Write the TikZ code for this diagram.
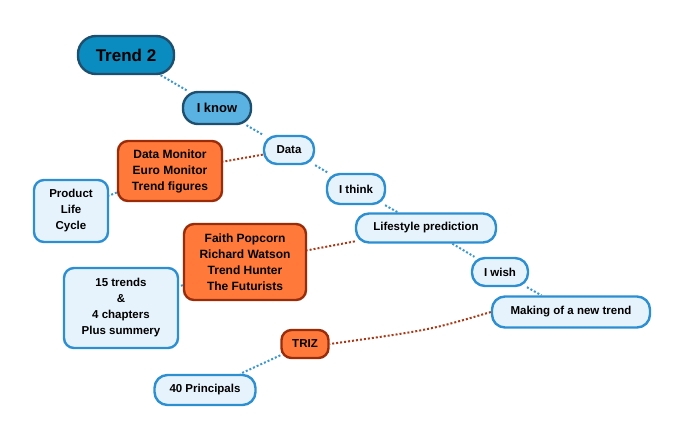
\documentclass[tikz,border=0pt]{standalone}
\usepackage{fontspec}
\setmainfont{Liberation Sans}
\definecolor{tfill}{HTML}{0A8CC0}
\definecolor{tdraw}{HTML}{1F4F6E}
\definecolor{kfill}{HTML}{5AB2E2}
\definecolor{lfill}{HTML}{E6F3FC}
\definecolor{ldraw}{HTML}{2B8FD2}
\definecolor{ofill}{HTML}{FF7A3A}
\definecolor{odraw}{HTML}{9A2C0A}
\definecolor{cbl}{HTML}{3A96CC}
\definecolor{cbr}{HTML}{A83A18}
\begin{document}
\begin{tikzpicture}[x=1pt,y=-1pt,
 base/.style={rounded corners=10pt,line width=2.4pt,font=\bfseries\fontsize{11.5}{13.5}\selectfont,align=center,inner sep=0pt},
 lite/.style={base,fill=lfill,draw=ldraw},
 org/.style={base,fill=ofill,draw=odraw},
 bl/.style={line width=2pt,dotted,draw=cbl},
 br/.style={line width=2pt,dotted,draw=cbr}]
\useasboundingbox (0,0) rectangle (685,440);
\node[base,fill=tfill,draw=tdraw,minimum width=96pt,minimum height=38pt,rounded corners=18pt,font=\bfseries\fontsize{17}{19}\selectfont] (t2) at (126,55) {Trend 2};
\node[base,fill=kfill,draw=tdraw,minimum width=68pt,minimum height=32pt,rounded corners=15pt,font=\bfseries\fontsize{13}{15}\selectfont] (ik) at (217,108) {I know};
\node[lite,minimum width=50pt,minimum height=28pt,rounded corners=13pt] (da) at (289,150) {Data};
\node[lite,minimum width=58pt,minimum height=30pt,rounded corners=13pt] (it) at (356,189) {I think};
\node[lite,minimum width=140pt,minimum height=29pt,rounded corners=13pt] (lp) at (426,228) {Lifestyle prediction};
\node[lite,minimum width=56pt,minimum height=28pt,rounded corners=13pt] (iw) at (500,272) {I wish};
\node[lite,minimum width=158pt,minimum height=31pt,rounded corners=13pt] (mk) at (571,312) {Making of a new trend};
\node[org,minimum width=104pt,minimum height=60pt,font=\bfseries\fontsize{12}{16}\selectfont] (dm) at (170,171) {Data Monitor\\Euro Monitor\\Trend figures};
\node[lite,minimum width=74pt,minimum height=62pt,font=\bfseries\fontsize{11.5}{16}\selectfont] (pl) at (71,211) {Product\\Life\\Cycle};
\node[org,minimum width=122pt,minimum height=76pt,font=\bfseries\fontsize{12}{16}\selectfont] (fp) at (245,262) {Faith Popcorn\\Richard Watson\\Trend Hunter\\The Futurists};
\node[lite,minimum width=114pt,minimum height=80pt,font=\bfseries\fontsize{11.5}{16}\selectfont] (ft) at (121,308) {15 trends\\\&\\4 chapters\\Plus summery};
\node[org,minimum width=47pt,minimum height=28pt] (tz) at (305,344) {TRIZ};
\node[lite,minimum width=101pt,minimum height=30pt,rounded corners=13pt] (fo) at (205,390) {40 Principals};
\draw[bl] (t2) -- (ik);
\draw[bl] (ik) -- (da);
\draw[bl] (da) -- (it);
\draw[bl] (it) -- (lp);
\draw[bl] (lp) -- (iw);
\draw[bl] (iw) -- (mk);
\draw[br] (da) -- (dm);
\draw[br] (lp) -- (fp);
\draw[br] (mk.west) .. controls (430,330) .. (tz.east);
\draw[bl] (dm) -- (pl);
\draw[bl] (fp) -- (ft);
\draw[bl] (tz) -- (fo);
\end{tikzpicture}
\end{document}
